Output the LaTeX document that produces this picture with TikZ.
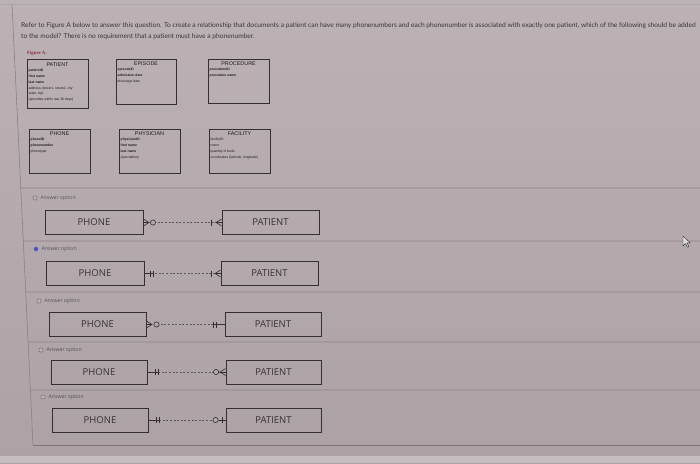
\documentclass[tikz,border=0pt]{standalone}
\usepackage{fontspec}
\setmainfont{Lato}
\newfontfamily\labfont{Open Sans}
\newfontfamily\visfont{Liberation Sans}
\newfontfamily\figfont{Liberation Serif}
\usetikzlibrary{calc}
\definecolor{bg}{RGB}{180,169,172}
\definecolor{bgtop}{RGB}{188,178,181}
\definecolor{bgbot}{RGB}{172,161,164}
\definecolor{ink}{RGB}{52,47,50}
\definecolor{dark}{RGB}{30,27,29}
\definecolor{sep}{RGB}{140,130,134}
\definecolor{qtext}{RGB}{58,52,55}
\definecolor{figred}{RGB}{140,40,60}
\definecolor{radioblue}{RGB}{70,80,190}
\tikzset{
  ebox/.style={draw=ink, line width=0.6pt, inner sep=0pt},
  etitle/.style={font=\visfont\fontsize{5.4}{6}\selectfont, text=dark, inner sep=0pt, anchor=north},
  eattr/.style={font=\visfont\fontsize{3.4}{5.9}\selectfont, text=dark, inner sep=0pt, anchor=north west, align=left},
  abox/.style={draw=ink, line width=0.9pt, minimum width=97pt, minimum height=24pt, inner sep=0pt,
               font=\labfont\fontsize{9.5}{10}\selectfont, text=dark!90},
  conn/.style={draw=ink!80, line width=0.5pt, dash pattern=on 2pt off 1.6pt},
  mk/.style={draw=ink, line width=0.6pt},
  radio/.style={circle, draw=sep!80!black, line width=0.4pt, minimum size=4.4pt, inner sep=0pt, fill=bgtop},
  optlab/.style={font=\labfont\fontsize{5.2}{6}\selectfont, text=qtext!85, inner sep=0pt, anchor=west},
  qline/.style={font=\fontsize{6.65}{7}\selectfont, text=qtext, inner sep=0pt, anchor=base west},
  crowR/.pic={\draw[mk] (0,-3.5) -- (5.5,0) -- (0,3.5); \draw[mk] (0,0) -- (5.5,0);},
  crowL/.pic={\draw[mk] (0,-3.5) -- (-5.5,0) -- (0,3.5); \draw[mk] (0,0) -- (-5.5,0);},
  barv/.pic={\draw[mk] (0,-3) -- (0,3);},
  circ/.pic={\draw[mk, fill=bg] (0,0) circle (2.6);},
}
\begin{document}
\begin{tikzpicture}[x=1pt,y=-1pt]
\useasboundingbox (0,0) rectangle (700,463);
\shade[top color=bgtop, bottom color=bgbot] (0,0) rectangle (700,463);
\fill[bgtop!85!white] (0,456) rectangle (700,463);
% frame lines
\coordinate (lt) at (12,4);
\coordinate (lb) at (33,445);
\draw[sep!70, line width=0.5pt] (0,4) -- (700,4);
\draw[sep, line width=0.6pt] (lt) -- (lb);
\foreach \yy in {188,241,292,342,390} {
  \draw[sep, line width=0.6pt] ($(lt)!{(\yy-4)/441}!(lb)$) -- (700,\yy);
}
\draw[sep!90!black, line width=0.7pt] (lb) -- (700,445);

% question text
\node[qline] (q1) at (21,27) {Refer to Figure A below to answer this question. To create a relationship that documents a patient can have many phonenumbers and each phonenumber is associated with exactly one patient, which of the following should be added};
\node[qline] (q2) at (21,38) {to the model? There is no requirement that a patient must have a phonenumber.};
\node[font=\figfont\bfseries\fontsize{4.8}{5}\selectfont, text=figred, inner sep=0pt, anchor=base west] (figa) at (27,54) {Figure A.};

% Figure A entities
\node[ebox, minimum width=61pt, minimum height=49pt] (fpat) at (57.5,84) {};
\node[etitle] (fpatt) at ($(fpat.north)+(0,3)$) {PATIENT};
\node[eattr] (fpata) at ($(fpat.north west)+(1.8,9.5)$) {\textbf{patientID}\\\textbf{first name}\\\textbf{last name}\\address (street1, street2, city\\state, zip)\\\{episodes within last 30 days\}};

\node[ebox, minimum width=60pt, minimum height=45pt] (fepi) at (146,81.5) {};
\node[etitle] (fepit) at ($(fepi.north)+(0,3)$) {EPISODE};
\node[eattr] (fepia) at ($(fepi.north west)+(1.8,9.5)$) {\textbf{episodeID}\\\textbf{admission date}\\discharge date};

\node[ebox, minimum width=61pt, minimum height=44pt] (fpro) at (238.5,81) {};
\node[etitle] (fprot) at ($(fpro.north)+(0,3)$) {PROCEDURE};
\node[eattr] (fproa) at ($(fpro.north west)+(1.8,9.5)$) {\textbf{procedureID}\\\textbf{procedure name}};

\node[ebox, minimum width=61pt, minimum height=44pt] (fpho) at (59.5,151) {};
\node[etitle] (fphot) at ($(fpho.north)+(0,3)$) {PHONE};
\node[eattr] (fphoa) at ($(fpho.north west)+(1.8,9.5)$) {\textbf{phoneID}\\\textbf{phonenumber}\\phonetype};

\node[ebox, minimum width=61pt, minimum height=44pt] (fphy) at (149.5,151) {};
\node[etitle] (fphyt) at ($(fphy.north)+(0,3)$) {PHYSICIAN};
\node[eattr] (fphya) at ($(fphy.north west)+(1.8,9.5)$) {\textbf{physicianID}\\\textbf{first name}\\\textbf{last name}\\\{specialties\}};

\node[ebox, minimum width=61pt, minimum height=44pt] (ffac) at (239.5,151) {};
\node[etitle] (ffact) at ($(ffac.north)+(0,3)$) {FACILITY};
\node[eattr] (ffaca) at ($(ffac.north west)+(1.8,9.5)$) {facilityID\\name\\quantity of beds\\coordinates (latitude, longitude)};

% answer option radios and labels
\node[radio] (r1) at (35,198) {};
\node[optlab] (l1) at ($(r1.east)+(3,0)$) {Answer option};
\node[radio, fill=radioblue, draw=radioblue!70] (r2) at (36,249) {};
\node[optlab] (l2) at ($(r2.east)+(3,0)$) {Answer option};
\node[radio] (r3) at (39,301) {};
\node[optlab] (l3) at ($(r3.east)+(3,0)$) {Answer option};
\node[radio] (r4) at (41,350) {};
\node[optlab] (l4) at ($(r4.east)+(3,0)$) {Answer option};
\node[radio] (r5) at (43,397) {};
\node[optlab] (l5) at ($(r5.east)+(3,0)$) {Answer option};

% option 1
\node[abox, minimum width=98pt] (ph1) at (94,222.5) {PHONE};
\node[abox] (pa1) at (270.5,222.5) {PATIENT};
\draw[conn] (ph1.east) -- (pa1.west);
\pic at (ph1.east) {crowR};
\pic at ($(ph1.east)+(9.5,0)$) {circ};
\pic at ($(pa1.west)+(-10,0)$) {barv};
\pic at (pa1.west) {crowL};

% option 2
\node[abox, minimum width=98pt] (ph2) at (95,273.5) {PHONE};
\node[abox] (pa2) at (269.5,273.5) {PATIENT};
\draw[conn] (ph2.east) -- (pa2.west);
\draw[mk] (ph2.east) -- ++(10,0);
\pic at ($(ph2.east)+(6,0)$) {barv};
\pic at ($(ph2.east)+(9,0)$) {barv};
\pic at ($(pa2.west)+(-9,0)$) {barv};
\pic at (pa2.west) {crowL};

% option 3
\node[abox] (ph3) at (97.5,324.5) {PHONE};
\node[abox, minimum width=96pt] (pa3) at (273,324.5) {PATIENT};
\draw[conn] (ph3.east) -- (pa3.west);
\pic at (ph3.east) {crowR};
\pic at ($(ph3.east)+(10,0)$) {circ};
\draw[mk] (pa3.west) -- ++(-12,0);
\pic at ($(pa3.west)+(-11,0)$) {barv};
\pic at ($(pa3.west)+(-8,0)$) {barv};

% option 4
\node[abox, minimum width=96pt] (ph4) at (99,372) {PHONE};
\node[abox, minimum width=95pt] (pa4) at (273.5,372) {PATIENT};
\draw[conn] (ph4.east) -- (pa4.west);
\draw[mk] (ph4.east) -- ++(11,0);
\pic at ($(ph4.east)+(8,0)$) {barv};
\pic at ($(ph4.east)+(10.5,0)$) {barv};
\pic at (pa4.west) {crowL};
\pic at ($(pa4.west)+(-9.5,0)$) {circ};

% option 5
\node[abox, minimum width=96pt] (ph5) at (100,420) {PHONE};
\node[abox, minimum width=95pt] (pa5) at (273.5,420) {PATIENT};
\draw[conn] (ph5.east) -- (pa5.west);
\draw[mk] (ph5.east) -- ++(11,0);
\draw[mk] (pa5.west) -- ++(-7,0);
\pic at ($(ph5.east)+(7.5,0)$) {barv};
\pic at ($(ph5.east)+(10.5,0)$) {barv};
\pic at ($(pa5.west)+(-3.5,0)$) {barv};
\pic at ($(pa5.west)+(-10,0)$) {circ};

% mouse pointer
\filldraw[draw=ink, fill=bgtop!50!white, line width=0.4pt, line join=round]
  (683,236) -- (683,246) -- (685.5,243.5) -- (687.3,247.3) -- (688.8,246.6) -- (687,242.9) -- (690.3,242.9) -- cycle;
\end{tikzpicture}
\end{document}
